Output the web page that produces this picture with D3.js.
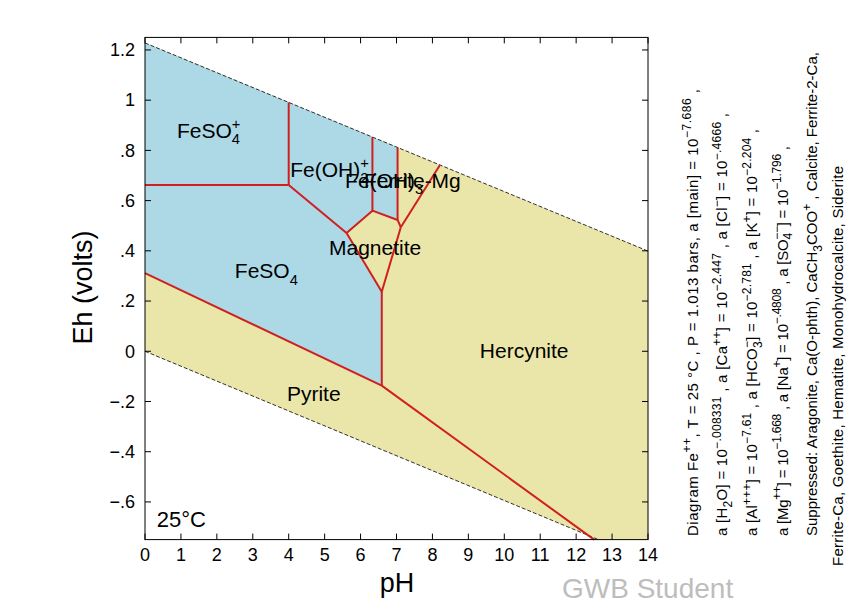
<!DOCTYPE html>
<html>
<head>
<meta charset="utf-8">
<script src="https://cdn.jsdelivr.net/npm/d3@7"></script>
<style>
  body { margin: 0; background: #fff; }
  svg { font-family: Arial, "Liberation Sans", Helvetica, sans-serif; }
  text { white-space: pre; }
</style>
</head>
<body>
<svg width="846" height="612"></svg>
<script>
// axis ticks
const xTicks = [0, 1, 2, 3, 4, 5, 6, 7, 8, 9, 10, 11, 12, 13, 14];
const yTicks = [1.2, 1, 0.8, 0.6, 0.4, 0.2, 0, -0.2, -0.4, -0.6];
const yTickLabels = ['1.2', '1', '.8', '.6', '.4', '.2', '0', '\u2212.2', '\u2212.4', '\u2212.6'];

// water stability limits (pH, Eh)
const waterTop = [[0, 1.228], [14, 0.399]];
const waterBottom = [[0, 0], [12.62, -0.75]];
const waterField = [[0, 1.228], [14, 0.399], [14, -0.75], [12.62, -0.75], [0, 0]];

// aqueous (blue) predominance field
const aqueousField = [[0, 1.228], [7.03, 0.812], [7.03, 0.523], [6.33, 0.56], [5.61, 0.471],
  [6.59, 0.237], [6.59, -0.137], [0, 0.311]];

// field boundaries
const boundaries = [
  [[0, 0.662], [4.0, 0.662]],
  [[4.0, 0.662], [4.0, 0.991]],
  [[4.0, 0.662], [5.61, 0.471]],
  [[6.33, 0.853], [6.33, 0.56]],
  [[7.03, 0.812], [7.03, 0.523]],
  [[5.61, 0.471], [6.33, 0.56], [7.03, 0.523], [7.12, 0.494]],
  [[7.12, 0.494], [8.21, 0.742]],
  [[5.61, 0.471], [6.59, 0.237], [7.12, 0.494]],
  [[6.59, 0.237], [6.59, -0.137]],
  [[0, 0.311], [6.59, -0.137], [12.5, -0.75]],
];

// species labels: markup, pH, Eh, anchor
const fieldLabels = [
  ['FeSO_{4}^{+}', 0.89, 0.849, 'start'],
  ['Fe(OH)_{2}^{+}', 4.04, 0.694, 'start'],
  ['Fe(OH)_{3}', 5.57, 0.650, 'start'],
  ['Ferrite-Mg', 8.79, 0.650, 'end'],
  ['Magnetite', 5.12, 0.384, 'start'],
  ['FeSO_{4}', 2.5, 0.29, 'start'],
  ['Hercynite', 9.32, -0.027, 'start'],
  ['Pyrite', 3.95, -0.2, 'start'],
];

const infoLines = [
  'Diagram Fe^{++}, T = 25 \u00b0C , P = 1.013 bars, a [main] = 10^{\u22127.686} ,',
  'a [H_{2}O] = 10^{\u2212.008331} , a [Ca^{++}] = 10^{\u22122.447} , a [Cl^{\u2212}] = 10^{\u2212.4666} ,',
  'a [Al^{+++}] = 10^{\u22127.61} , a [HCO_{3}^{\u2212}] = 10^{\u22122.781} , a [K^{+}] = 10^{\u22122.204} ,',
  'a [Mg^{++}] = 10^{\u22121.668} , a [Na^{+}] = 10^{\u2212.4808} , a [SO_{4}^{\u2212\u2212}] = 10^{\u22121.796} ,',
  'Suppressed: Aragonite, Ca(O-phth), CaCH_{3}COO^{+} , Calcite, Ferrite-2-Ca,',
  'Ferrite-Ca, Goethite, Hematite, Monohydrocalcite, Siderite',
];
const infoLengths = [447, 423, 407, 390, null, 400];

const blue = '#add8e6';
const yellow = '#eae6aa';
const red = '#d01f1f';

const svg = d3.select('svg');
const x = d3.scaleLinear().domain([0, 14]).range([145, 648]);
const y = d3.scaleLinear().domain([-0.75, 1.25]).range([539.6, 37.4]);
const line = d3.line().x(d => x(d[0])).y(d => y(d[1]));

// write markup with ^{sup} and _{sub} into a text element
function addRich(textSel, markup, size, ratio = 0.7) {
  const small = size * ratio;
  let shift = 0;
  let prevSub = null;
  markup.match(/\^\{[^}]*\}|_\{[^}]*\}|[^^_]+/g).forEach((p) => {
    let kind = 'n';
    let str = p;
    if (p.startsWith('^{')) { kind = 'sup'; str = p.slice(2, -1); }
    else if (p.startsWith('_{')) { kind = 'sub'; str = p.slice(2, -1); }
    let target = 0;
    if (kind === 'sup') target = -size * 0.42;
    if (kind === 'sub') target = size * 0.3;
    const ts = textSel.append('tspan')
      .text(str)
      .attr('dy', target - shift)
      .style('font-size', `${kind === 'n' ? size : small}px`);
    if (kind === 'sup' && prevSub) ts.attr('dx', -prevSub.length * 0.556 * small);
    prevSub = kind === 'sub' ? str : null;
    shift = target;
  });
}

svg.append('path')
  .attr('d', line(waterField) + 'Z')
  .attr('fill', yellow);

svg.append('path')
  .attr('d', line(aqueousField) + 'Z')
  .attr('fill', blue);

[waterTop, waterBottom].forEach((w) => {
  svg.append('path')
    .attr('d', line(w))
    .attr('fill', 'none')
    .attr('stroke', '#000')
    .attr('stroke-width', 0.8)
    .attr('stroke-dasharray', '4,2');
});

svg.selectAll('.boundary')
  .data(boundaries)
  .enter()
  .append('path')
  .attr('class', 'boundary')
  .attr('d', line)
  .attr('fill', 'none')
  .attr('stroke', red)
  .attr('stroke-width', 2)
  .attr('stroke-linejoin', 'round');

fieldLabels.forEach((l) => {
  const t = svg.append('text')
    .attr('x', x(l[1]))
    .attr('y', y(l[2]))
    .attr('text-anchor', l[3])
    .attr('fill', '#000');
  addRich(t, l[0], 21);
});

// frame and inward ticks
svg.append('rect')
  .attr('x', x(0)).attr('y', y(1.25))
  .attr('width', x(14) - x(0)).attr('height', y(-0.75) - y(1.25))
  .attr('fill', 'none').attr('stroke', '#000').attr('stroke-width', 1);

const tickLen = 6;
xTicks.forEach((v) => {
  svg.append('line').attr('x1', x(v)).attr('x2', x(v))
    .attr('y1', y(-0.75)).attr('y2', y(-0.75) - tickLen).attr('stroke', '#000');
  svg.append('line').attr('x1', x(v)).attr('x2', x(v))
    .attr('y1', y(1.25)).attr('y2', y(1.25) + tickLen).attr('stroke', '#000');
  svg.append('text')
    .attr('x', x(v)).attr('y', y(-0.75) + 21)
    .attr('text-anchor', 'middle')
    .style('font-size', '18px')
    .text(v);
});
yTicks.forEach((v, i) => {
  svg.append('line').attr('x1', x(0)).attr('x2', x(0) + tickLen)
    .attr('y1', y(v)).attr('y2', y(v)).attr('stroke', '#000');
  svg.append('line').attr('x1', x(14)).attr('x2', x(14) - tickLen)
    .attr('y1', y(v)).attr('y2', y(v)).attr('stroke', '#000');
  svg.append('text')
    .attr('x', x(0) - 10).attr('y', y(v))
    .attr('dy', '0.35em')
    .attr('text-anchor', 'end')
    .style('font-size', '18px')
    .text(yTickLabels[i]);
});

svg.append('text')
  .attr('x', x(0.33)).attr('y', y(-0.699))
  .style('font-size', '22px')
  .text('25\u00b0C');

svg.append('text')
  .attr('x', 397).attr('y', 592)
  .attr('text-anchor', 'middle')
  .style('font-size', '27px')
  .text('pH');

svg.append('text')
  .attr('transform', 'translate(91.5,287.5) rotate(-90)')
  .attr('text-anchor', 'middle')
  .style('font-size', '27px')
  .text('Eh (volts)');

svg.append('text')
  .attr('x', 562).attr('y', 598)
  .style('font-size', '28px')
  .attr('fill', '#bdbdbd')
  .text('GWB Student');

const infoX = [697.5, 727, 757, 787.5, 817, 843];
infoLines.forEach((s, i) => {
  const t = svg.append('text')
    .attr('transform', `translate(${infoX[i]},${i === 5 ? 566 : 536}) rotate(-90)`)
    .attr('fill', '#000');
  if (infoLengths[i]) t.attr('textLength', infoLengths[i]).attr('lengthAdjust', 'spacing');
  addRich(t, s, 15, 0.8);
});
</script>
</body>
</html>
